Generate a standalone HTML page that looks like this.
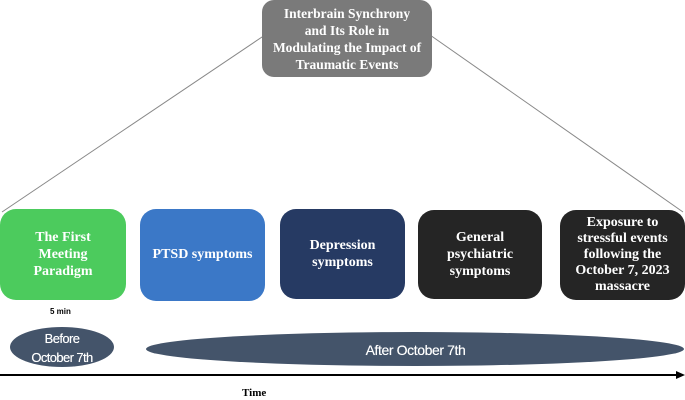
<!DOCTYPE html>
<html><head><style>
body{margin:0;width:685px;height:400px;background:#fff;position:relative;overflow:hidden;font-family:"Liberation Serif",serif;}
.b{position:absolute;display:flex;align-items:center;justify-content:center;text-align:center;color:#fff;font-weight:bold;border-radius:16px;box-sizing:border-box;}
.s{font-family:"Liberation Sans",sans-serif;}
</style></head><body>
<svg width="685" height="400" style="position:absolute;left:0;top:0">
<line x1="265" y1="35" x2="2" y2="212" stroke="#888" stroke-width="1"/>
<line x1="430" y1="35" x2="683" y2="212" stroke="#888" stroke-width="1"/>
<line x1="0" y1="375" x2="678" y2="375" stroke="#000" stroke-width="2"/>
<polygon points="685,375 676,371 676,379" fill="#000"/>
<ellipse cx="62" cy="347" rx="52" ry="20" fill="#44546a"/>
<ellipse cx="415" cy="349" rx="269" ry="17" fill="#44546a"/>
</svg>
<div class="b" style="left:262px;top:0;width:170px;height:77px;background:#7a7a7a;font-size:13.5px;line-height:17px;border-radius:12px;">Interbrain Synchrony<br>and Its Role in<br>Modulating the Impact of<br>Traumatic Events</div>
<div class="b" style="left:0;top:209px;width:126px;height:91px;background:#4ccb5d;font-size:14px;line-height:17px;">The First<br>Meeting<br>Paradigm</div>
<div class="b" style="left:140px;top:209px;width:125px;height:92px;background:#3b78c7;font-size:14px;">PTSD symptoms</div>
<div class="b" style="left:280px;top:209px;width:125px;height:90px;background:#263a63;font-size:14px;line-height:17px;">Depression<br>symptoms</div>
<div class="b" style="left:418px;top:210px;width:124px;height:89px;background:#252525;font-size:14px;line-height:17px;">General<br>psychiatric<br>symptoms</div>
<div class="b" style="left:560px;top:210px;width:125px;height:90px;background:#252525;font-size:14px;line-height:16px;">Exposure to<br>stressful events<br>following the<br>October 7, 2023<br>massacre</div>
<div class="s" style="position:absolute;left:50px;top:307px;font-size:8px;font-weight:bold;">5 min</div>
<div class="s b" style="left:10px;top:328px;width:104px;height:40px;font-size:13px;line-height:19px;letter-spacing:-0.6px;font-weight:normal;background:none;text-shadow:0 0 0.4px #fff;">Before<br>October 7th</div>
<div class="s b" style="left:146px;top:333px;width:539px;height:33px;font-size:14px;letter-spacing:-0.4px;font-weight:normal;background:none;text-shadow:0 0 0.4px #fff;">After October 7th</div>
<div style="position:absolute;left:242px;top:387px;font-size:11px;font-weight:bold;">Time</div>
</body></html>
